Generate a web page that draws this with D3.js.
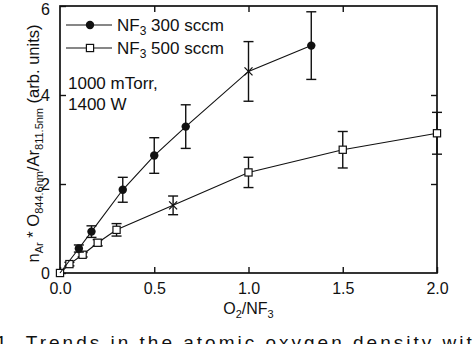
<!DOCTYPE html>
<html>
<head>
<meta charset="utf-8">
<script src="https://cdn.jsdelivr.net/npm/d3@7"></script>
<style>
  html, body { margin: 0; padding: 0; background: #fff; overflow: hidden; }
  svg { display: block; font-family: "Liberation Sans", Arial, sans-serif; }
</style>
</head>
<body>
<script>
// O2/NF3 ratio, measured ratio and uncertainty for each NF3 flow
const x300 = [0, 0.1, 0.167, 0.333, 0.5, 0.667, 1.0, 1.333];
const y300 = [0, 0.55, 0.93, 1.87, 2.64, 3.29, 4.53, 5.11];
const err300 = [0, 0.08, 0.13, 0.28, 0.4, 0.49, 0.67, 0.76];
const mark300 = ["none", "circle", "circle", "circle", "circle", "circle", "cross", "circle"];

const x500 = [0, 0.05, 0.12, 0.2, 0.3, 0.6, 1.0, 1.5, 2.0];
const y500 = [0, 0.2, 0.41, 0.68, 0.97, 1.52, 2.26, 2.77, 3.14];
const err500 = [0, 0.04, 0.05, 0.07, 0.14, 0.21, 0.34, 0.41, 0.47];
const mark500 = ["square", "square", "square", "square", "square", "cross", "square", "square", "square"];

const xTicks = [0, 0.5, 1.0, 1.5, 2.0];
const yTicks = [0, 2, 4, 6];

const W = 474, H = 344;
const m = { left: 60, right: 37, top: 6, bottom: 71 };

const svg = d3.select("body").append("svg").attr("width", W).attr("height", H);

const x = d3.scaleLinear().domain([0, 2]).range([m.left, W - m.right]);
const y = d3.scaleLinear().domain([0, 6]).range([H - m.bottom, m.top]);

const ink = "#111";

// axes: ticks point inward on all four sides
svg.append("g").attr("transform", `translate(0,${y(0)})`)
  .call(d3.axisBottom(x).tickValues(xTicks).tickFormat(d3.format(".1f")).tickSizeInner(-6).tickSizeOuter(0).tickPadding(10))
  .call(g => g.select(".domain").remove())
  .call(g => g.selectAll("text").attr("font-size", 16).attr("fill", ink))
  .call(g => g.selectAll("line").attr("stroke", ink).attr("stroke-width", 1.4));

svg.append("g").attr("transform", `translate(0,${y(6)})`)
  .call(d3.axisTop(x).tickValues(xTicks.slice(1, -1)).tickFormat("").tickSizeInner(-6).tickSizeOuter(0))
  .call(g => g.select(".domain").remove())
  .call(g => g.selectAll("line").attr("stroke", ink).attr("stroke-width", 1.4));

svg.append("g").attr("transform", `translate(${x(0)},0)`)
  .call(d3.axisLeft(y).tickValues(yTicks).tickFormat(d3.format("d")).tickSizeInner(-6).tickSizeOuter(0).tickPadding(10))
  .call(g => g.select(".domain").remove())
  .call(g => g.selectAll("text").attr("font-size", 16).attr("fill", ink)
    .filter(d => d === 6).attr("dy", "0.5em"))
  .call(g => g.selectAll("line").attr("stroke", ink).attr("stroke-width", 1.4));

svg.append("g").attr("transform", `translate(${x(2)},0)`)
  .call(d3.axisRight(y).tickValues(yTicks.slice(1, -1)).tickFormat("").tickSizeInner(-6).tickSizeOuter(0))
  .call(g => g.select(".domain").remove())
  .call(g => g.selectAll("line").attr("stroke", ink).attr("stroke-width", 1.4));

// plot frame
svg.append("rect")
  .attr("x", x(0)).attr("y", y(6))
  .attr("width", x(2) - x(0)).attr("height", y(0) - y(6))
  .attr("fill", "none").attr("stroke", ink).attr("stroke-width", 1.7);

function drawSeries(xs, ys, es, marks) {
  const pts = xs.map((v, i) => ({ x: v, y: ys[i], e: es[i], m: marks[i] }));
  const g = svg.append("g");
  g.append("path")
    .attr("d", d3.line().x(d => x(d.x)).y(d => y(d.y))(pts))
    .attr("fill", "none").attr("stroke", ink).attr("stroke-width", 1.1);

  const eb = g.selectAll(".eb").data(pts.filter(d => d.e > 0)).join("g")
    .attr("stroke", ink).attr("stroke-width", 1.4);
  eb.append("line")
    .attr("x1", d => x(d.x)).attr("x2", d => x(d.x))
    .attr("y1", d => y(d.y + d.e)).attr("y2", d => y(d.y - d.e));
  [1, -1].forEach(s => {
    eb.append("line")
      .attr("x1", d => x(d.x) - 5).attr("x2", d => x(d.x) + 5)
      .attr("y1", d => y(d.y + s * d.e)).attr("y2", d => y(d.y + s * d.e));
  });

  pts.forEach(d => drawMarker(g, d.m, x(d.x), y(d.y)));
}

function drawMarker(g, type, cx, cy) {
  if (type === "circle") {
    g.append("circle").attr("cx", cx).attr("cy", cy).attr("r", 4.2).attr("fill", ink);
  } else if (type === "square") {
    g.append("rect").attr("x", cx - 3.6).attr("y", cy - 3.6).attr("width", 7.2).attr("height", 7.2)
      .attr("fill", "#fff").attr("stroke", ink).attr("stroke-width", 1.2);
  } else if (type === "cross") {
    g.append("path").attr("d", `M${cx - 4},${cy - 4}L${cx + 4},${cy + 4}M${cx - 4},${cy + 4}L${cx + 4},${cy - 4}`)
      .attr("stroke", ink).attr("stroke-width", 1.3);
  }
}

drawSeries(x500, y500, err500, mark500);
drawSeries(x300, y300, err300, mark300);

// legend
const legend = [
  { label: "300 sccm", mark: "circle", yy: 25 },
  { label: "500 sccm", mark: "square", yy: 48 }
];
legend.forEach(l => {
  svg.append("line").attr("x1", 66).attr("x2", 112).attr("y1", l.yy).attr("y2", l.yy)
    .attr("stroke", ink).attr("stroke-width", 1.2);
  drawMarker(svg, l.mark, 90, l.yy);
  const t = svg.append("text").attr("x", 117).attr("y", l.yy + 6).attr("font-size", 17).attr("fill", ink);
  t.append("tspan").text("NF");
  t.append("tspan").attr("font-size", 12).attr("dy", 4).text("3");
  t.append("tspan").attr("dy", -4).text(" " + l.label);
});

svg.append("text").attr("x", 68).attr("y", 89).attr("font-size", 17).attr("fill", ink).text("1000 mTorr,");
svg.append("text").attr("x", 68).attr("y", 110).attr("font-size", 17).attr("fill", ink).text("1400 W");

// x-axis title
const xt = svg.append("text").attr("x", x(1)).attr("y", 314).attr("text-anchor", "middle")
  .attr("font-size", 16).attr("fill", ink);
xt.append("tspan").text("O");
xt.append("tspan").attr("font-size", 11).attr("dy", 4).text("2");
xt.append("tspan").attr("dy", -4).text("/NF");
xt.append("tspan").attr("font-size", 11).attr("dy", 4).text("3");

// y-axis title
const yt = svg.append("text").attr("transform", `translate(39,${(y(0) + y(6)) / 2 + 4}) rotate(-90)`)
  .attr("text-anchor", "middle").attr("font-size", 16.5).attr("fill", ink);
yt.append("tspan").text("n");
yt.append("tspan").attr("font-size", 11).attr("dy", 4).text("Ar");
yt.append("tspan").attr("dy", -4).text(" * O");
yt.append("tspan").attr("font-size", 11).attr("dy", 4).text("844.6nm");
yt.append("tspan").attr("dy", -4).text("/Ar");
yt.append("tspan").attr("font-size", 11).attr("dy", 4).text("811.5nm");
yt.append("tspan").attr("dy", -4).text(" (arb. units)");

// caption line, partly below the page edge
svg.append("text").attr("x", -4).attr("y", 349).attr("font-size", 19).attr("fill", ink)
  .attr("letter-spacing", 3)
  .text("1. Trends in the atomic oxygen density with O₂ addition");
</script>
</body>
</html>
